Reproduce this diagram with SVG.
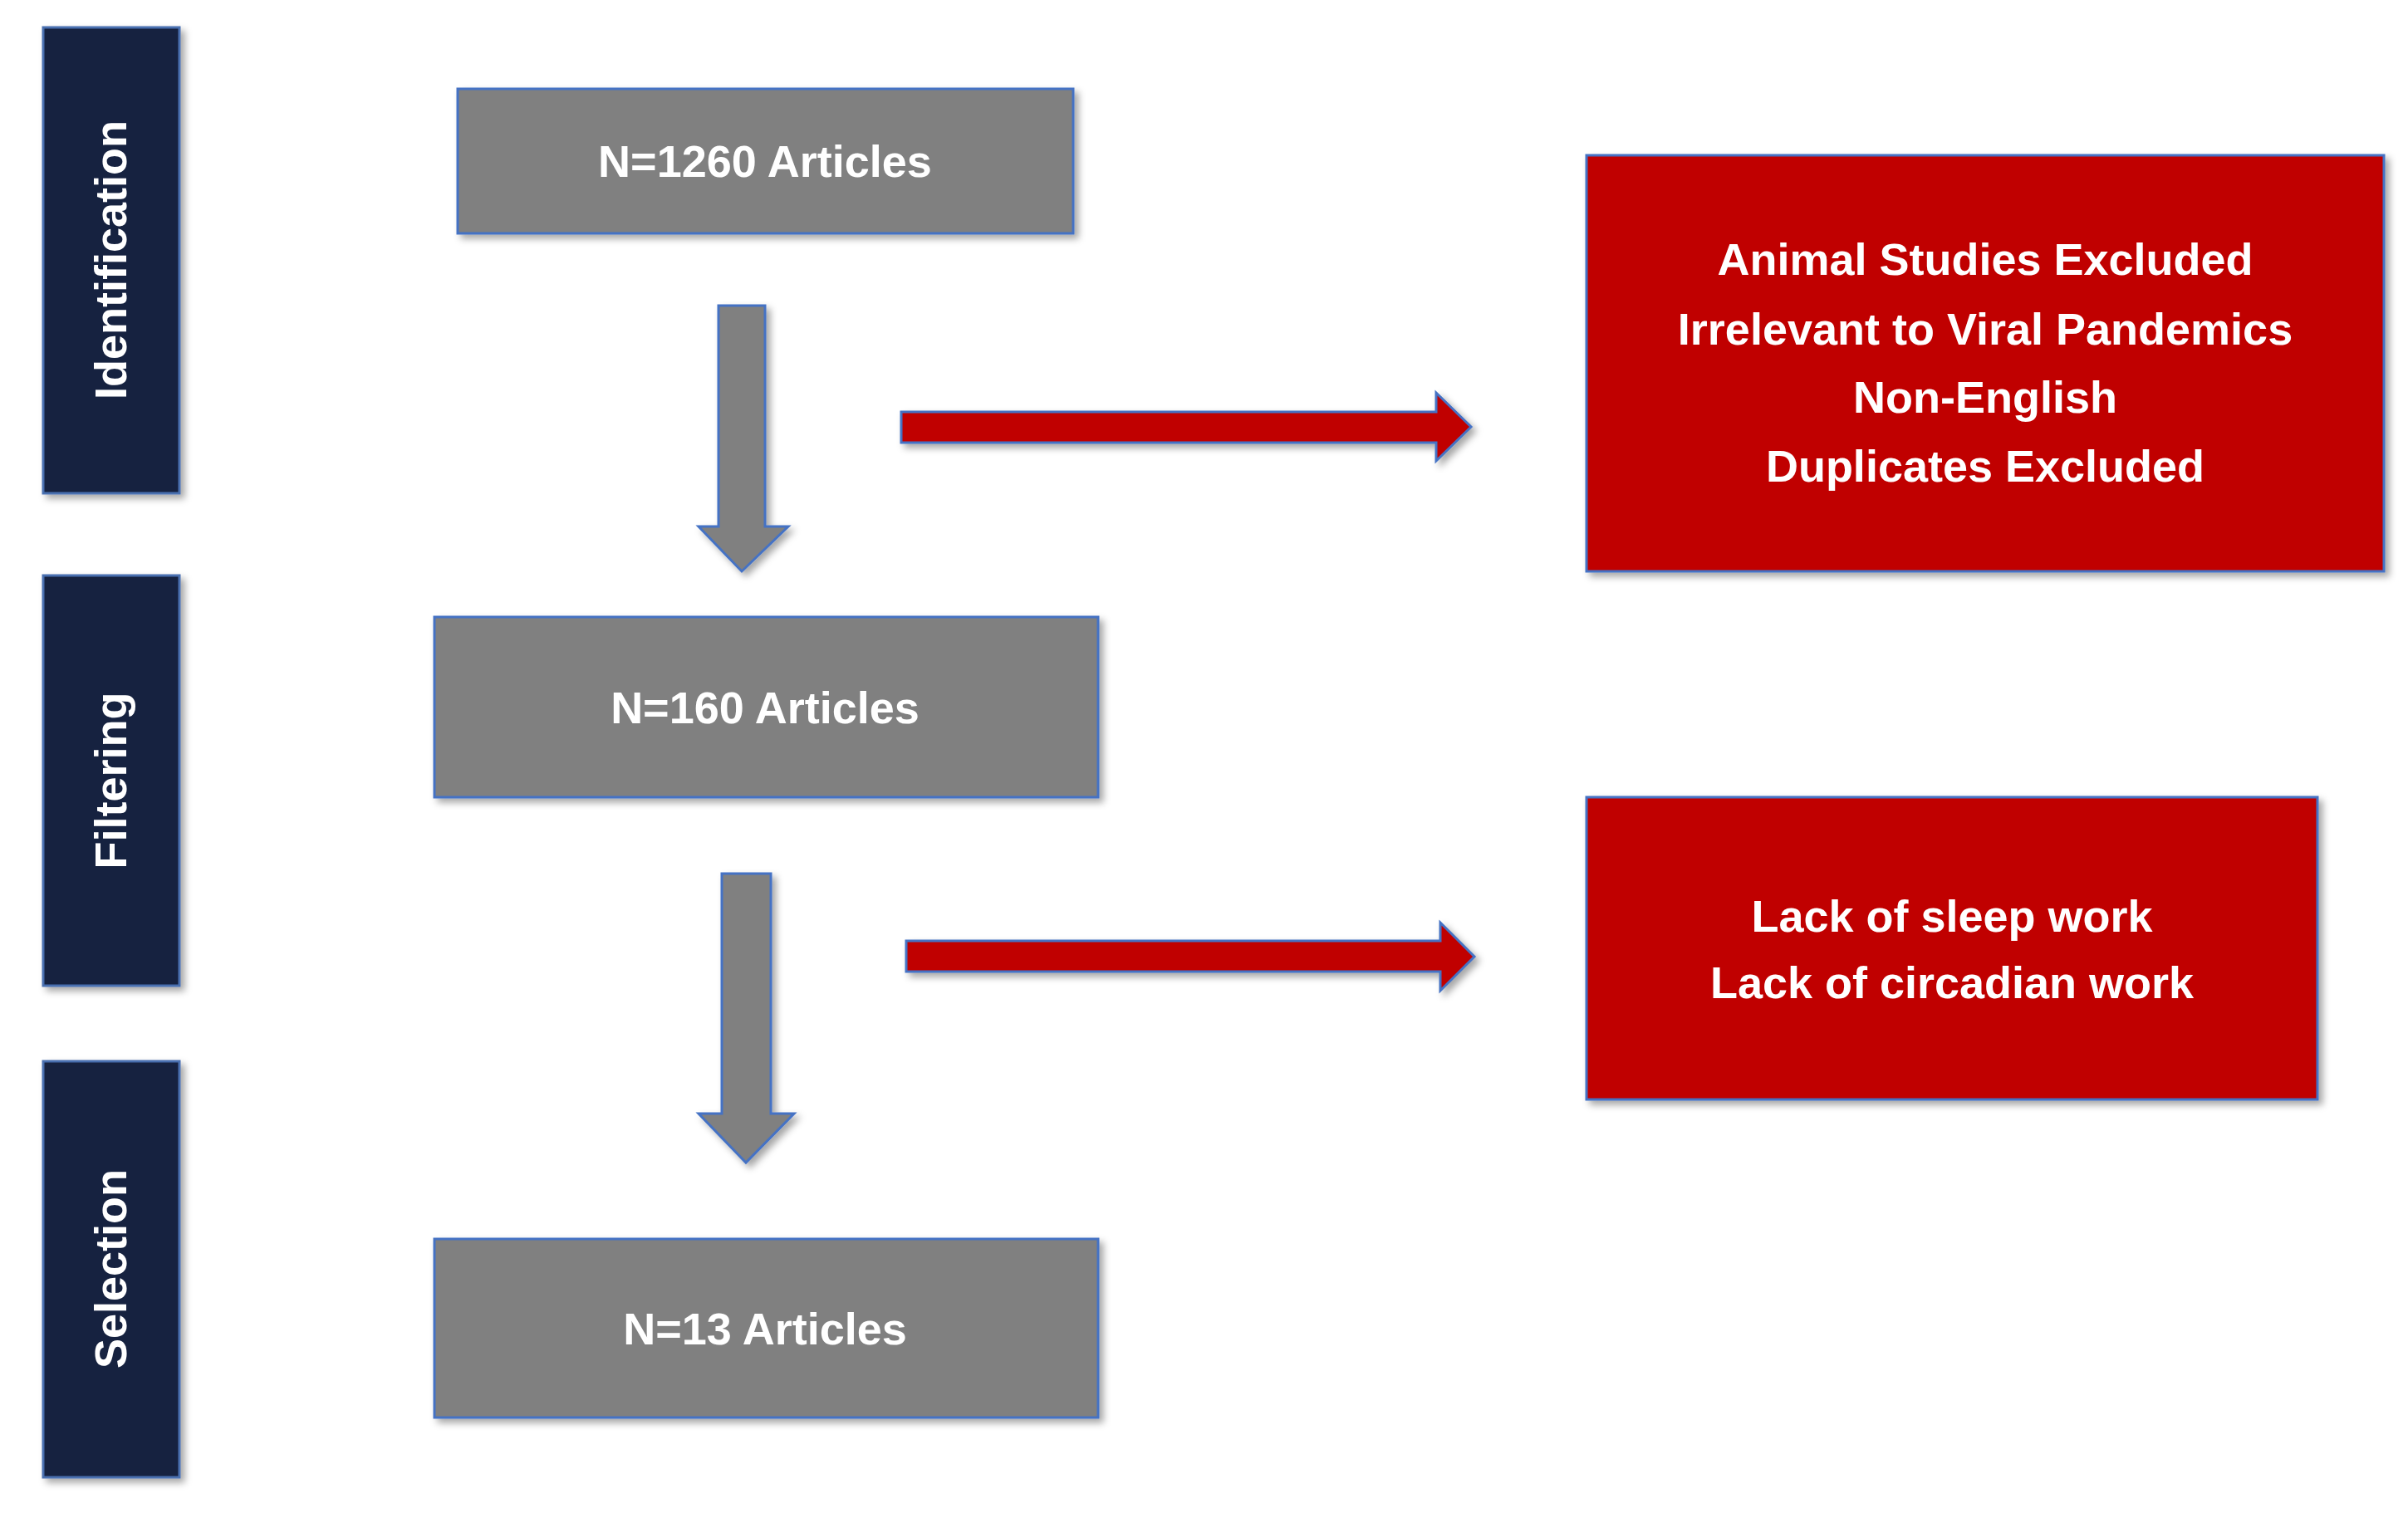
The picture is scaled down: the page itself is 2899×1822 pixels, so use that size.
<svg xmlns="http://www.w3.org/2000/svg" width="2899" height="1822" viewBox="0 0 2899 1822">
<style>
.side{fill:#12213f;stroke:#4a6fb0;stroke-width:3}
.gray{fill:#808080;stroke:#4472c4;stroke-width:3}
.red{fill:#c00000;stroke:#4472c4;stroke-width:3}
.t{font-family:"Liberation Sans",Arial,sans-serif;font-weight:bold;fill:#fff;text-anchor:middle;font-size:54px}
.ga{fill:#808080;stroke:#4472c4;stroke-width:3}
.ra{fill:#c00000;stroke:#4472c4;stroke-width:3}
</style>
<defs><filter id="sh" x="-5%" y="-5%" width="115%" height="115%"><feDropShadow dx="5" dy="5" stdDeviation="4" flood-color="#000" flood-opacity="0.35"/></filter></defs>
<rect width="2899" height="1822" fill="#fff"/>
<g id="identification"><rect class="side" x="52" y="33" width="164" height="561" filter="url(#sh)"/><text class="t" transform="translate(152,313) rotate(-90)">Identification</text></g>
<g id="filtering"><rect class="side" x="52" y="693" width="164" height="494" filter="url(#sh)"/><text class="t" transform="translate(152,940) rotate(-90)">Filtering</text></g>
<g id="selection"><rect class="side" x="52" y="1278" width="164" height="501" filter="url(#sh)"/><text class="t" transform="translate(152,1528) rotate(-90)">Selection</text></g>
<g id="n1260"><rect class="gray" x="551" y="107" width="741" height="174" filter="url(#sh)"/><text class="t" x="921" y="213">N=1260 Articles</text></g>
<g id="n160"><rect class="gray" x="523" y="743" width="799" height="217" filter="url(#sh)"/><text class="t" x="921" y="871">N=160 Articles</text></g>
<g id="n13"><rect class="gray" x="523" y="1492" width="799" height="215" filter="url(#sh)"/><text class="t" x="921" y="1619">N=13 Articles</text></g>
<g id="excl1"><rect class="red" x="1910" y="187" width="960" height="501" filter="url(#sh)"/>
<text class="t" x="2390" y="331">Animal Studies Excluded</text>
<text class="t" x="2390" y="415">Irrelevant to Viral Pandemics</text>
<text class="t" x="2390" y="497">Non-English</text>
<text class="t" x="2390" y="580">Duplicates Excluded</text></g>
<g id="excl2"><rect class="red" x="1910" y="960" width="880" height="364" filter="url(#sh)"/>
<text class="t" x="2350" y="1122">Lack of sleep work</text>
<text class="t" x="2350" y="1202">Lack of circadian work</text></g>
<g id="connectors" filter="url(#sh)">
<polygon class="ga" points="865,368 921,368 921,634 949,634 893,688 841,634 865,634"/>
<polygon class="ga" points="869,1052 928,1052 928,1341 956,1341 898,1400 841,1341 869,1341"/>
<polygon class="ra" points="1085,496 1729,496 1729,473 1771,514 1729,555 1729,533 1085,533"/>
<polygon class="ra" points="1091,1133 1734,1133 1734,1111 1775,1152 1734,1193 1734,1170 1091,1170"/>
</g>
</svg>
